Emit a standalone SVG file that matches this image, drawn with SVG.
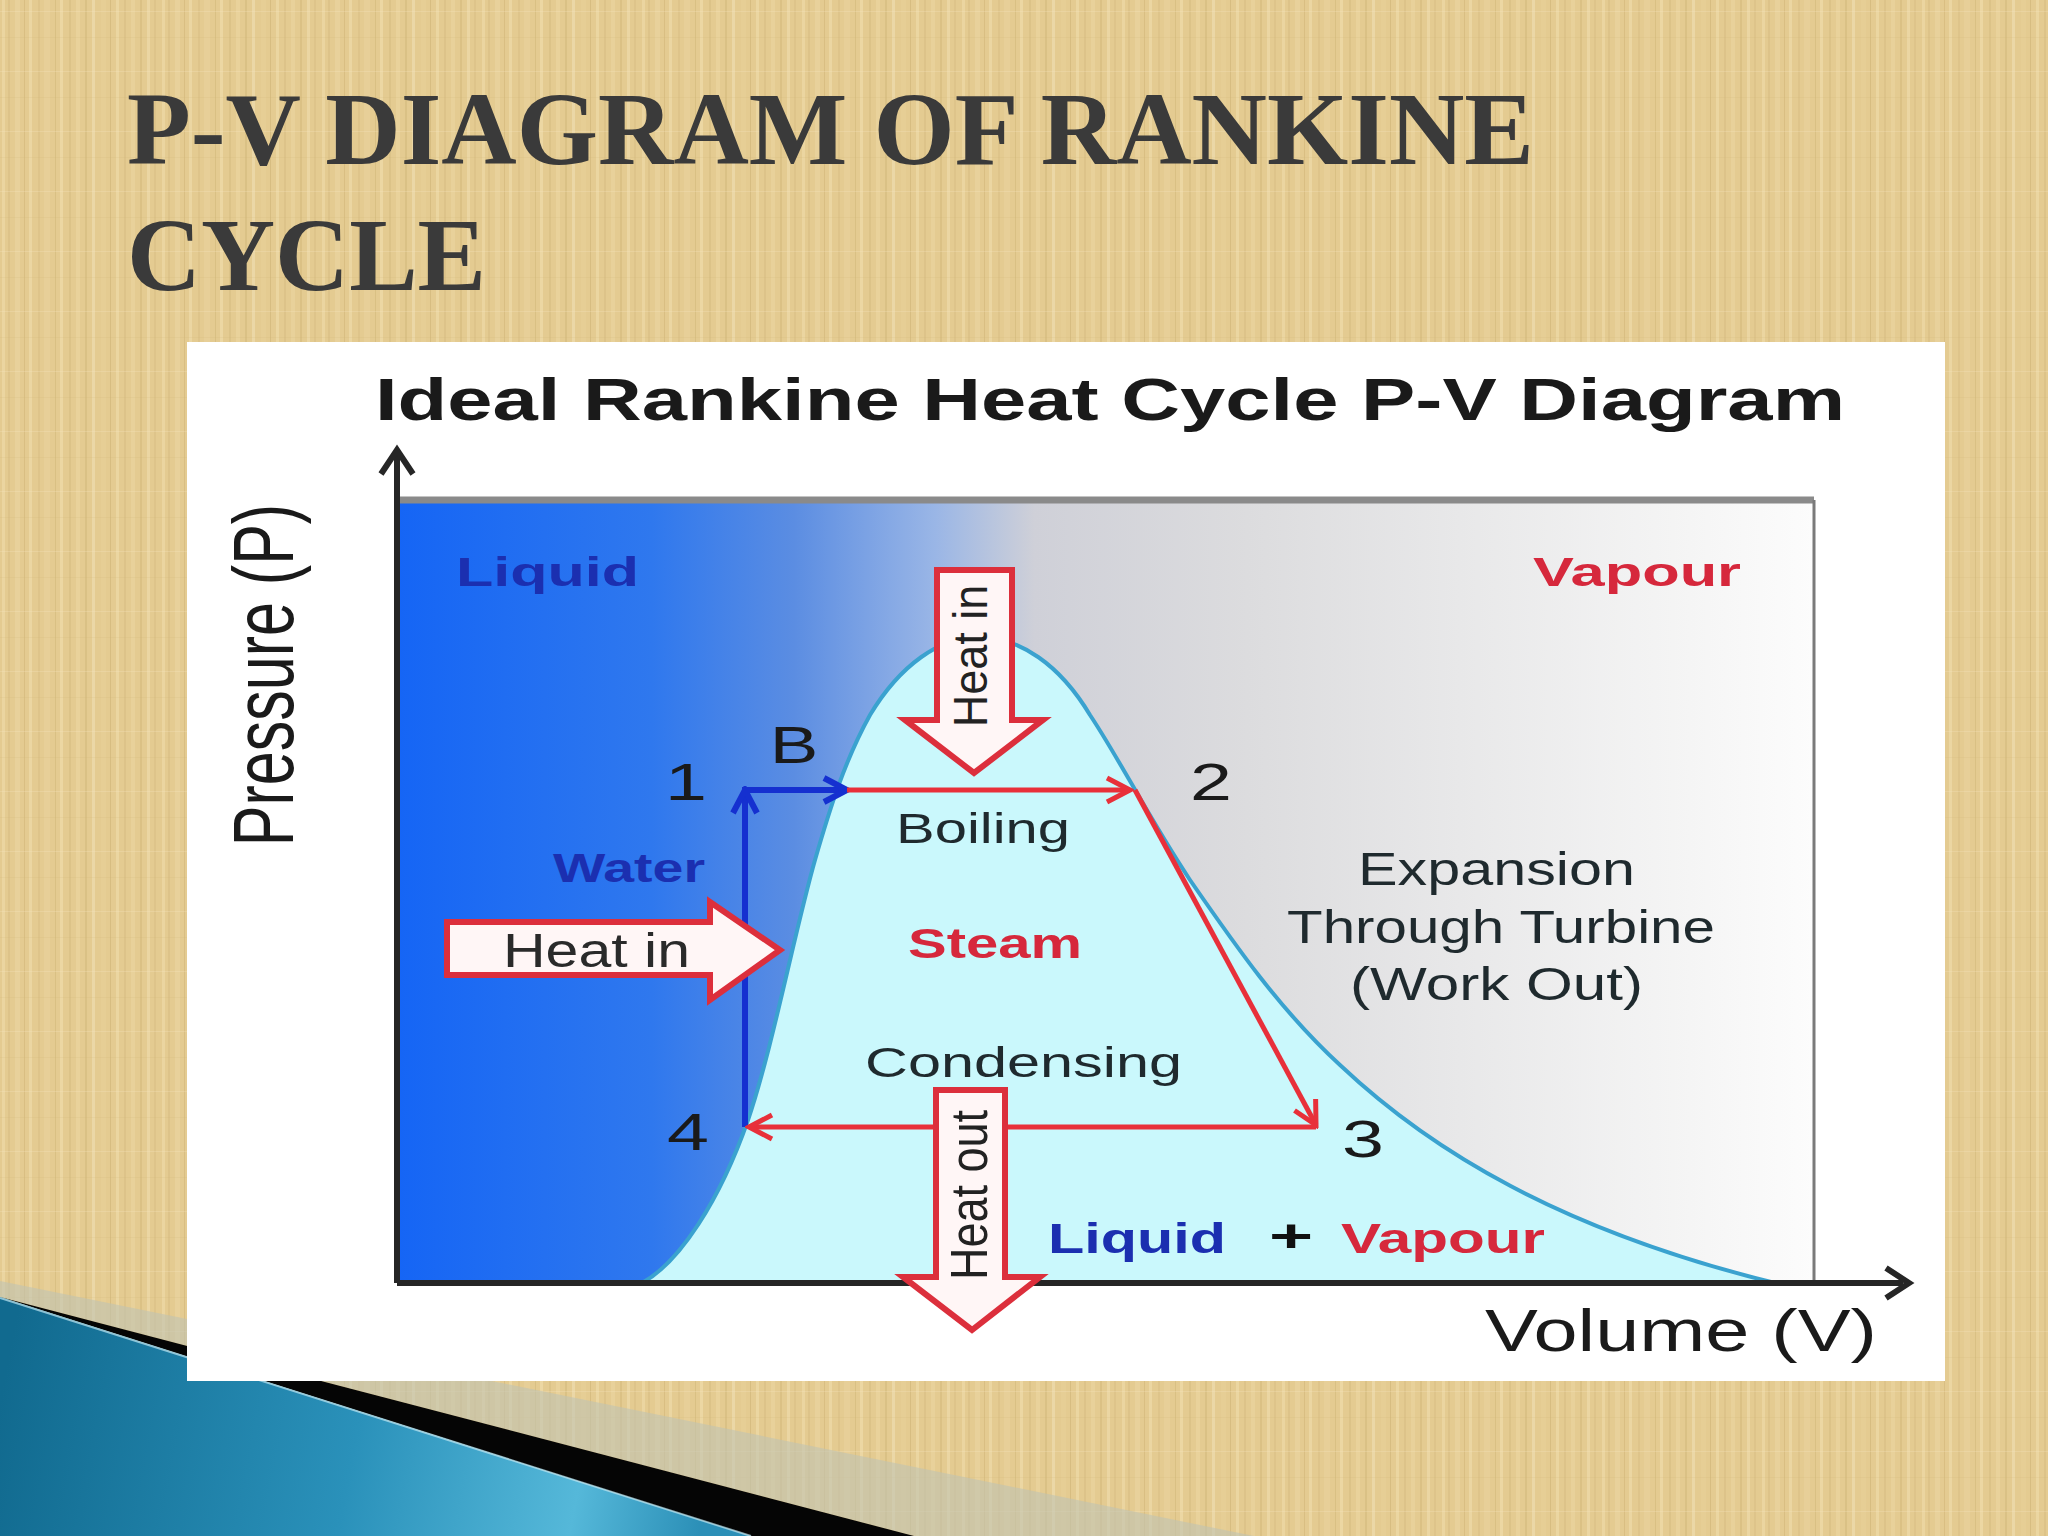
<svg xmlns="http://www.w3.org/2000/svg" width="2048" height="1536" viewBox="0 0 2048 1536">
  <defs>
    <pattern id="burlap" width="160" height="60" patternUnits="userSpaceOnUse">
      <rect width="160" height="60" fill="#e4cb91"/>
      <rect x="2" width="3" height="60" fill="#f2e0b0" opacity="0.5"/>
      <rect x="8" width="2" height="60" fill="#cdb077" opacity="0.3"/>
      <rect x="15" width="5" height="60" fill="#eedaa6" opacity="0.45"/>
      <rect x="24" width="1" height="60" fill="#c4a768" opacity="0.35"/>
      <rect x="29" width="3" height="60" fill="#f4e5bb" opacity="0.4"/>
      <rect x="38" width="2" height="60" fill="#cbae72" opacity="0.25"/>
      <rect x="44" width="6" height="60" fill="#ecd6a0" opacity="0.45"/>
      <rect x="55" width="1" height="60" fill="#c2a565" opacity="0.3"/>
      <rect x="60" width="3" height="60" fill="#f3e3b6" opacity="0.5"/>
      <rect x="69" width="2" height="60" fill="#ccb075" opacity="0.3"/>
      <rect x="76" width="4" height="60" fill="#efdcaa" opacity="0.4"/>
      <rect x="85" width="2" height="60" fill="#c6a96b" opacity="0.3"/>
      <rect x="92" width="3" height="60" fill="#f5e7bf" opacity="0.45"/>
      <rect x="101" width="5" height="60" fill="#e9d39c" opacity="0.4"/>
      <rect x="110" width="1" height="60" fill="#c0a263" opacity="0.35"/>
      <rect x="116" width="3" height="60" fill="#f2e1b2" opacity="0.5"/>
      <rect x="124" width="2" height="60" fill="#cdb178" opacity="0.3"/>
      <rect x="131" width="4" height="60" fill="#eddaa5" opacity="0.45"/>
      <rect x="140" width="2" height="60" fill="#c7aa6c" opacity="0.3"/>
      <rect x="147" width="3" height="60" fill="#f4e4b9" opacity="0.45"/>
      <rect x="154" width="2" height="60" fill="#ccaf74" opacity="0.25"/>
      <rect y="11" width="160" height="1" fill="#f6e9c4" opacity="0.25"/>
      <rect y="37" width="160" height="1" fill="#c9ad70" opacity="0.15"/>
    </pattern>
    <linearGradient id="teal" gradientUnits="userSpaceOnUse" x1="0" y1="1400" x2="700" y2="1536">
      <stop offset="0" stop-color="#116a8f"/>
      <stop offset="0.5" stop-color="#2a91ba"/>
      <stop offset="0.82" stop-color="#55b8d9"/>
      <stop offset="1" stop-color="#2b8fb7"/>
    </linearGradient>
    <linearGradient id="plotbg" gradientUnits="userSpaceOnUse" x1="397" y1="0" x2="1814" y2="0">
      <stop offset="0" stop-color="#1565f5"/>
      <stop offset="0.18" stop-color="#2f78ee"/>
      <stop offset="0.28" stop-color="#5b8de2"/>
      <stop offset="0.38" stop-color="#9ab6e6"/>
      <stop offset="0.45" stop-color="#cfd0d8"/>
      <stop offset="0.6" stop-color="#dcdcde"/>
      <stop offset="0.75" stop-color="#e8e8e9"/>
      <stop offset="0.9" stop-color="#f4f4f4"/>
      <stop offset="1" stop-color="#fcfcfc"/>
    </linearGradient>
    <marker id="arrBlue" viewBox="0 0 30 30" refX="26" refY="15" markerWidth="30" markerHeight="30" markerUnits="userSpaceOnUse" orient="auto">
      <path d="M3,3 L26,15 L3,27" fill="none" stroke="#1530d0" stroke-width="6"/>
    </marker>
    <marker id="arrRed" viewBox="0 0 30 30" refX="26" refY="15" markerWidth="30" markerHeight="30" markerUnits="userSpaceOnUse" orient="auto">
      <path d="M3,3 L26,15 L3,27" fill="none" stroke="#e8303a" stroke-width="5"/>
    </marker>
    <style>
      .sans { font-family: "Liberation Sans", Arial, sans-serif; }
      .lbl { font-family: "Liberation Sans", Arial, sans-serif; fill: #1f2a2e; }
      .blue { font-family: "Liberation Sans", Arial, sans-serif; font-weight: bold; fill: #1b2fb0; }
      .red { font-family: "Liberation Sans", Arial, sans-serif; font-weight: bold; fill: #d6283c; }
      .num { font-family: "Liberation Sans", Arial, sans-serif; fill: #1a1a1a; font-size: 52px; text-anchor: middle; }
      .harrow { fill: #fff6f6; stroke: #dc2f3c; stroke-width: 6; stroke-linejoin: miter; }
      .axis { stroke: #262626; stroke-width: 6; fill: none; }
      .cyc-blue { stroke: #1530d0; stroke-width: 6; fill: none; }
      .cyc-red { stroke: #e8303a; stroke-width: 5; fill: none; }
    </style>
  </defs>

  <!-- slide background -->
  <g id="slide-background">
    <rect width="2048" height="1536" fill="url(#burlap)"/>
    <polygon points="0,1281 1254,1536 914,1536 0,1297" fill="#bfc3b2" opacity="0.6"/>
    <polygon points="0,1297 914,1536 751,1536" fill="#050505"/>
    <polygon points="0,1297 751,1536 0,1536" fill="url(#teal)"/>
    <line x1="0" y1="1298" x2="751" y2="1536" stroke="#bfe6f2" stroke-width="2" opacity="0.7"/>
  </g>

  <!-- slide title -->
  <g id="slide-title" font-family="Liberation Serif, Times New Roman, serif" font-weight="bold" fill="#3a3a3a">
    <text x="127" y="164" font-size="104" textLength="1407" lengthAdjust="spacingAndGlyphs">P-V DIAGRAM OF RANKINE</text>
    <text x="127" y="290" font-size="104" textLength="359" lengthAdjust="spacingAndGlyphs">CYCLE</text>
  </g>

  <!-- white picture panel -->
  <g id="panel">
    <rect x="187" y="342" width="1758" height="1039" fill="#ffffff"/>
  </g>

  <!-- plot area -->
  <g id="plot-area">
    <rect x="397" y="500" width="1417" height="783" fill="url(#plotbg)"/>
    <line x1="397" y1="500" x2="1814" y2="500" stroke="#8a8a8a" stroke-width="7"/>
    <line x1="1814" y1="500" x2="1814" y2="1283" stroke="#7a7a7a" stroke-width="3"/>
  </g>

  <!-- saturation dome -->
  <g id="dome">
    <path d="M642,1283 C680,1262 720,1200 748,1120 C772,1050 795,930 815,860 C830,808 845,760 870,715 C900,665 940,637 978,637 C1020,637 1060,665 1090,715 C1120,760 1150,820 1190,880 C1235,945 1280,1010 1340,1065 C1430,1150 1560,1230 1775,1283 Z" fill="#caf8fc" stroke="#3aa2cf" stroke-width="4"/>
  </g>

  <!-- axes -->
  <g id="axes">
    <line class="axis" x1="397" y1="1283" x2="397" y2="455"/>
    <path d="M381,474 L397,450 L413,474" class="axis" stroke-width="5"/>
    <line class="axis" x1="397" y1="1283" x2="1903" y2="1283"/>
    <path d="M1886,1268 L1909,1283 L1886,1298" class="axis" stroke-width="5"/>
  </g>

  <!-- cycle connectors -->
  <g id="connectors">
    <line class="cyc-blue" x1="745" y1="1127" x2="745" y2="790" marker-end="url(#arrBlue)"/>
    <line class="cyc-blue" x1="742" y1="790" x2="847" y2="790" marker-end="url(#arrBlue)"/>
    <line class="cyc-red" x1="847" y1="790" x2="1130" y2="790" marker-end="url(#arrRed)"/>
    <line class="cyc-red" x1="1135" y1="790" x2="1316" y2="1125" marker-end="url(#arrRed)"/>
    <line class="cyc-red" x1="1316" y1="1127" x2="749" y2="1127" marker-end="url(#arrRed)"/>
  </g>

  <!-- heat arrows -->
  <g id="arrow-heat-in-top">
    <path class="harrow" d="M937,570 L1012,570 L1012,720 L1043,720 L974,773 L905,720 L937,720 Z"/>
    <text class="sans" font-size="45" fill="#222" text-anchor="middle" transform="translate(987,656) scale(1.06,1) rotate(-90)">Heat in</text>
  </g>
  <g id="arrow-heat-in-left">
    <path class="harrow" d="M447,922 L710,922 L710,902 L780,950 L710,1000 L710,975 L447,975 Z"/>
    <text class="sans" x="503" y="967" font-size="48" fill="#2a2a2a" textLength="187" lengthAdjust="spacingAndGlyphs">Heat in</text>
  </g>
  <g id="arrow-heat-out">
    <path class="harrow" d="M936,1090 L1005,1090 L1005,1277 L1040,1277 L972,1330 L903,1277 L936,1277 Z"/>
    <text class="sans" font-size="45" fill="#222" text-anchor="middle" transform="translate(987,1195) scale(1.15,1) rotate(-90)">Heat out</text>
  </g>

  <!-- chart titles and axis labels -->
  <g id="chart-labels">
    <text class="sans" x="375" y="420" font-size="60" font-weight="bold" fill="#1a1a1a" textLength="1470" lengthAdjust="spacingAndGlyphs">Ideal Rankine Heat Cycle P-V Diagram</text>
    <text class="sans" font-size="61" fill="#1a1a1a" text-anchor="middle" transform="translate(293,675) scale(1.4,1) rotate(-90)">Pressure (P)</text>
    <text class="sans" x="1485" y="1351" font-size="60" fill="#1a1a1a" textLength="392" lengthAdjust="spacingAndGlyphs">Volume (V)</text>
  </g>

  <!-- region labels -->
  <g id="region-labels">
    <text class="blue" x="456" y="586" font-size="40" textLength="183" lengthAdjust="spacingAndGlyphs">Liquid</text>
    <text class="red" x="1533" y="586" font-size="40" textLength="208" lengthAdjust="spacingAndGlyphs">Vapour</text>
    <text class="blue" x="553" y="882" font-size="40" textLength="152" lengthAdjust="spacingAndGlyphs">Water</text>
    <text class="lbl" x="896" y="843" font-size="42" textLength="174" lengthAdjust="spacingAndGlyphs">Boiling</text>
    <text class="red" x="908" y="958" font-size="42" textLength="174" lengthAdjust="spacingAndGlyphs">Steam</text>
    <text class="lbl" x="865" y="1077" font-size="42" textLength="317" lengthAdjust="spacingAndGlyphs">Condensing</text>
    <text class="lbl" x="1358" y="885" font-size="46" textLength="277" lengthAdjust="spacingAndGlyphs">Expansion</text>
    <text class="lbl" x="1287" y="943" font-size="46" textLength="428" lengthAdjust="spacingAndGlyphs">Through Turbine</text>
    <text class="lbl" x="1350" y="1000" font-size="46" textLength="293" lengthAdjust="spacingAndGlyphs">(Work Out)</text>
    <text class="blue" x="1048" y="1253" font-size="42" textLength="178" lengthAdjust="spacingAndGlyphs">Liquid</text>
    <text class="sans" font-size="42" font-weight="bold" fill="#111" text-anchor="middle" transform="translate(1291,1252) scale(1.8,1.1)">+</text>
    <text class="red" x="1341" y="1253" font-size="42" textLength="204" lengthAdjust="spacingAndGlyphs">Vapour</text>
  </g>

  <!-- state point labels -->
  <g id="point-labels">
    <text class="num" transform="translate(686,800) scale(1.45,1)">1</text>
    <text class="num" font-size="48" transform="translate(794,763) scale(1.4,1)">B</text>
    <text class="num" transform="translate(1211,800) scale(1.45,1)">2</text>
    <text class="num" transform="translate(1363,1157) scale(1.45,1)">3</text>
    <text class="num" transform="translate(688,1150) scale(1.45,1)">4</text>
  </g>
</svg>
